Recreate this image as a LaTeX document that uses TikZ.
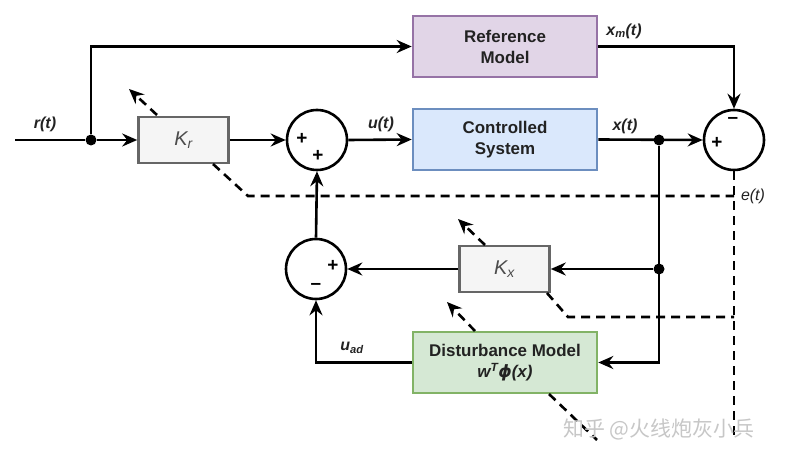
\documentclass[tikz,border=0pt]{standalone}
\usepackage{fontspec}
\setmainfont{Liberation Sans}
\newfontfamily\cjk{Noto Sans CJK SC}
\newfontfamily\phifont{DejaVu Sans}
\usetikzlibrary{arrows.meta,calc}
\definecolor{refFill}{HTML}{E1D5E7}
\definecolor{refDraw}{HTML}{9673A6}
\definecolor{csFill}{HTML}{DAE8FC}
\definecolor{csDraw}{HTML}{6C8EBF}
\definecolor{dmFill}{HTML}{D5E8D4}
\definecolor{dmDraw}{HTML}{82B366}
\definecolor{gainFill}{HTML}{F5F5F5}
\definecolor{gainDraw}{HTML}{666666}
\definecolor{txt}{HTML}{222222}
\tikzset{
  bigbox/.style={draw, line width=2.6bp, minimum width=184bp, minimum height=61bp, align=center, text=txt, font=\fontsize{17}{21}\selectfont\bfseries},
  gainbox/.style={draw=gainDraw, fill=gainFill, line width=2.6bp, minimum width=90bp, minimum height=46bp, text=black!70, font=\fontsize{20}{22}\selectfont\itshape},
  sumnode/.style={draw, circle, line width=2.6bp, minimum size=60bp, inner sep=0pt},
  dot/.style={circle, fill, inner sep=0pt, minimum size=11bp},
  wire/.style={line width=2.6bp},
  arr/.style={line width=2.6bp, -{Stealth[length=15bp,width=13bp,inset=5bp]}},
  dwire/.style={line width=2.6bp, dash pattern=on 9bp off 6bp},
  darr/.style={line width=2.6bp, dash pattern=on 9bp off 6bp, -{Stealth[length=15bp,width=13bp,inset=5bp]}},
  lab/.style={font=\fontsize{16}{19}\selectfont\bfseries\itshape, text=txt, inner sep=0pt},
  sign/.style={font=\fontsize{19}{21}\selectfont\bfseries, inner sep=0pt},
}
\begin{document}
\begin{tikzpicture}[x=1bp,y=-1bp]
\useasboundingbox[fill=white] (0,0) rectangle (785,462);
% blocks
\node[bigbox, fill=refFill, draw=refDraw] (ref) at (505,46.5) {Reference\\Model};
\node[bigbox, fill=csFill, draw=csDraw] (cs) at (505,139.5) {Controlled\\System};
\node[bigbox, fill=dmFill, draw=dmDraw] (dm) at (505,362.5) {Disturbance Model\\\textit{w\textsuperscript{T}{\phifont\bfseries\itshape ϕ}(x)}};
\node[gainbox] (kr) at (183.5,140) {K\textsubscript{r}};
\node[gainbox] (kx) at (504.5,269) {K\textsubscript{x}};
\node[sumnode] (s1) at (317,140) {};
\node[sumnode] (s2) at (316,269) {};
\node[sumnode] (s3) at (734,140) {};
% signs
\node[sign] (s1a) at (302,139) {+};
\node[sign] (s1b) at (318,156) {+};
\node[sign] (s2a) at (333,266) {+};
\node[sign] (s2b) at (316,286) {–};
\node[sign] (s3a) at (717,143) {+};
\node[sign] (s3b) at (733,120) {–};
% junctions and free ends
\coordinate (in) at (15,140);
\node[dot] (j1) at (91,140) {};
\node[dot] (j2) at (659,140) {};
\node[dot] (j3) at (659,269) {};
% solid connectors
\draw[wire] (in) -- (j1);
\draw[arr] (j1) -- (kr.west);
\draw[arr] (j1) |- (ref.west);
\draw[arr] (kr.east) -- (s1.west);
\draw[arr] (s1.east) -- (cs.west);
\draw[arr] (cs.east) -- (s3.west);
\draw[arr] (ref.east) -| (s3.north);
\draw[arr] (j2) |- (dm.east);
\draw[arr] (j3) -- (kx.east);
\draw[arr] (kx.west) -- (s2.east);
\draw[arr] (dm.west) -| (s2.south);
\draw[arr] (s2.north) -- (s1.south);
% dashed adaptation paths
\coordinate (krT0) at (157,115);
\coordinate (krT1) at (129,89);
\coordinate (krB0) at (213,164);
\coordinate (krB1) at (248,196);
\coordinate (eK) at (734,196);
\coordinate (kxT0) at (485,245);
\coordinate (kxT1) at (458,219);
\coordinate (kxB0) at (547,293);
\coordinate (kxB1) at (568,317);
\coordinate (eX) at (734,317);
\coordinate (dmT0) at (475,331);
\coordinate (dmT1) at (447,302);
\coordinate (dmB0) at (549,394);
\coordinate (dmB1) at (597,440);
\coordinate (eEnd) at (734,440);
\draw[darr] (krT0) -- (krT1);
\draw[darr] (kxT0) -- (kxT1);
\draw[darr] (dmT0) -- (dmT1);
\draw[dwire] (krB0) -- (krB1) -- (eK);
\draw[dwire] (kxB0) -- (kxB1) -- (eX);
\draw[dwire] (dmB0) -- (dmB1);
\draw[dwire] (s3.south) -- (eEnd);
% labels
\node[lab] (lr) at (45,124) {r(t)};
\node[lab] (lxm) at (624,31) {x\textsubscript{m}(t)};
\node[lab] (lu) at (381,124) {u(t)};
\node[lab] (lx) at (625,126) {x(t)};
\node[lab, font=\fontsize{16}{19}\selectfont\itshape] (le) at (753,196) {e(t)};
\node[lab] (lad) at (352,348) {u\textsubscript{ad}};
% watermark
\node[text=black!22, font=\cjk\fontsize{21}{24}\selectfont, inner sep=0pt] (wm) at (659,429) {知乎 @火线炮灰小兵};
\end{tikzpicture}
\end{document}
